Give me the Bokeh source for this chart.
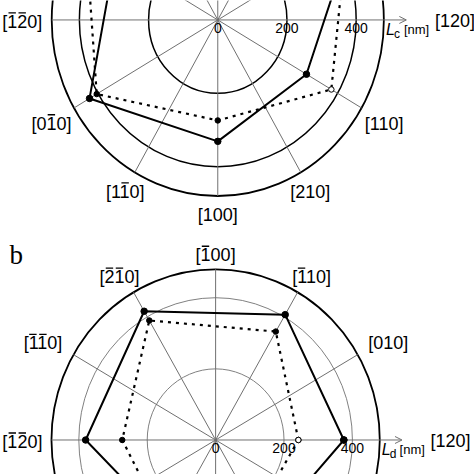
import numpy as np

from bokeh.core.properties import value
from bokeh.embed import file_html
from bokeh.layouts import column
from bokeh.models import Arrow, OpenHead, Range1d
from bokeh.plotting import figure
from bokeh.resources import INLINE

B = "\u0304"  # marks a bar over the preceding digit

# panel a: L_c [nm], points every 60 deg (upper half cropped away in the source)
a_angles = [30, -30, -90, -150, 150]
a_solid = [446, 296, 331, 428, 343]
a_dotted = [428, 379, 274, 404, 440]
a_hollow = [-30]
a_dir_angles = [0, -30, -60, -90, -120, -150, 180]
a_dir_labels = ["[120]", "[110]", "[210]", "[100]", "[11" + B + "0]",
                "[01" + B + "0]", "[1" + B + "2" + B + "0]"]

# panel b: L_d [nm], closed hexagon (lower half cropped away)
b_angles = [0, 60, 120, 180, -120, -60, 0]
b_solid = [375, 407, 418, 380, 278, 294, 375]
b_dotted = [242, 352, 388, 273, 286, 239, 242]
b_hollow = [0]
b_dir_angles = [0, 30, 60, 90, 120, 150, 180]
b_dir_labels = ["[120]", "[010]", "[1" + B + "10]", "[1" + B + "00]",
                "[2" + B + "1" + B + "0]", "[1" + B + "1" + B + "0]",
                "[1" + B + "2" + B + "0]"]

rings = [200, 400]
ring_labels = ["0", "200", "400"]
outer = 480

FONT = value("Liberation Sans")
W = 474
LABEL_PX = 18


def polar(rs, angles):
    t = np.radians(angles)
    return np.array(rs) * np.cos(t), np.array(rs) * np.sin(t)


def bar_label(p, kx, ky, xc, yc, label, align="center"):
    # plain text plus short segments as bars over the marked digits
    plain = label.replace(B, "")
    em = LABEL_PX
    adv = [0.278 * em if c in "[]" else 0.556 * em for c in plain]
    total = sum(adv)
    left = -total / 2 if align == "center" else 0
    p.text(x=[xc], y=[yc], text=[plain], text_align=align,
           text_baseline="middle", text_font_size=f"{em}px", text_font=FONT)
    pos, i = left, 0
    x0s, x1s = [], []
    for j, c in enumerate(label):
        if c == B:
            continue
        nxt = label[j + 1] if j + 1 < len(label) else ""
        if nxt == B:
            x0s.append(xc + (pos + 1.2) / kx)
            x1s.append(xc + (pos + adv[i] - 1.4) / kx)
        pos += adv[i]
        i += 1
    if x0s:
        yb = yc + 9 / ky
        p.segment(x0s, yb, x1s, yb, line_color="black", line_width=1.3)


def panel(height, xr, yr, angles, solid, dotted, hollow, dir_angles, dir_labels,
          sub, ring_color, ring_width, spread):
    p = figure(width=W, height=height, x_range=Range1d(*xr), y_range=Range1d(*yr),
               toolbar_location=None, output_backend="svg", min_border=0)
    p.axis.visible = False
    p.grid.visible = False
    p.outline_line_color = None
    kx = W / (xr[1] - xr[0])
    ky = height / (yr[1] - yr[0])

    # grid: rings, outer circle, spokes, axis arrow
    d = [2 * r for r in rings]
    p.ellipse(x=0, y=0, width=d, height=d, fill_color=None,
              line_color=ring_color, line_width=ring_width)
    p.ellipse(x=0, y=0, width=2 * outer, height=2 * outer, fill_color=None,
              line_color="black", line_width=1.8)
    sa = np.arange(0, 360, 30)
    ex, ey = polar([outer] * len(sa), sa)
    p.segment(0, 0, ex, ey, line_color="#707070", line_width=1)
    p.add_layout(Arrow(end=OpenHead(size=7, line_width=1, line_color="#707070"),
                       x_start=outer, y_start=0, x_end=545, y_end=0,
                       line_color="#707070", line_width=1))

    # data
    sx, sy = polar(solid, angles)
    dx, dy = polar(dotted, angles)
    p.line(sx, sy, line_color="black", line_width=2)
    p.line(dx, dy, line_color="black", line_width=2.2, line_dash="3 5")
    p.scatter(sx, sy, size=6.5, fill_color="black", line_color="black")
    fills = ["white" if a in hollow else "black" for a in angles]
    p.scatter(dx, dy, size=5.5, fill_color=fills, line_color="black", line_width=1)

    # ring labels
    p.text(x=[0] + rings, y=-22, text=ring_labels, text_align="center",
           text_baseline="middle", text_font_size="14px", text_font=FONT)

    # direction labels
    for a, t in zip(dir_angles, dir_labels):
        if a == 0:
            bar_label(p, kx, ky, 628, -3, t, align="left")
            continue
        r = 525 + 40 * np.cos(np.radians(a)) ** 2
        x, y = polar([r], [a])
        if a not in (90, 180):
            x = x * spread
        bar_label(p, kx, ky, x[0], y[0] - 2 / ky, t)

    # axis title L_x [nm]
    p.text(x=[486], y=[-26], text=["L"], text_baseline="middle",
           text_font_style="italic", text_font_size="16px", text_font=FONT)
    p.text(x=[509], y=[-38], text=[sub], text_baseline="middle",
           text_font_size="12px", text_font=FONT)
    p.text(x=[538], y=[-27], text=["[nm]"], text_baseline="middle",
           text_font_size="13px", text_font=FONT)
    return p


pa = panel(230, (-628, 742), (-574, 53), a_angles, a_solid, a_dotted, a_hollow,
           a_dir_angles, a_dir_labels, "c", "black", 1.5, 1.0)
pb = panel(244, (-629, 757), (-97, 589), b_angles, b_solid, b_dotted, b_hollow,
           b_dir_angles, b_dir_labels, "d", "#808080", 1, 1.05)
pb.text(x=[-583], y=[519], text=["b"], text_align="center", text_baseline="middle",
        text_font_size="27px", text_font=value("Liberation Serif"))

layout = column(pa, pb)
open("out.html", "w").write(file_html(layout, INLINE))
